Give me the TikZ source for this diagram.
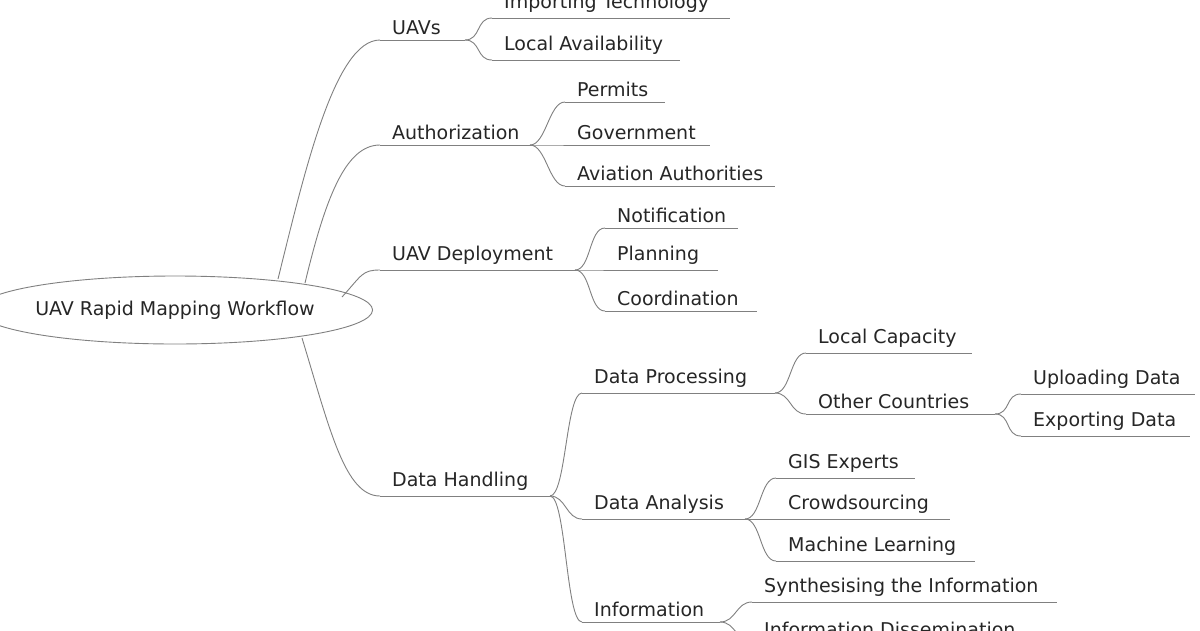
\documentclass[tikz,border=0pt]{standalone}
\usepackage{fontspec}
\setmainfont{DejaVu Sans}
\usetikzlibrary{calc,shapes.geometric}
\newcommand\mmitem[5]{%
  \coordinate (#1-s) at (#2,#4);
  \coordinate (#1-e) at (#3,#4);
  \draw[ul] (#1-s) -- (#1-e);
  \node[lbl] (#1) at ($(#1-s)+(12,-5)$) {#5};}
\newcommand\mmlink[2]{%
  \draw[conn] (#1-e) .. controls ($(#1-e)+(16,0)$) and ($(#2-s)+(-16,0)$) .. (#2-s);}
\begin{document}
\begin{tikzpicture}[x=1pt,y=-1pt,
  ul/.style={draw=black!50,line width=0.9pt},
  conn/.style={draw=black!50,line width=0.9pt},
  lbl/.style={anchor=south west,inner sep=0pt,font=\fontsize{19}{20}\selectfont,text=black!85}]
\useasboundingbox[fill=white] (0,0) rectangle (1200,630);
\node[ellipse,draw=black!50,line width=0.9pt,minimum width=340,minimum height=68,inner sep=0pt,
  font=\fontsize{19}{20}\selectfont,text=black!85] (root) at (175,310) {UAV Rapid Mapping Workflow};
\mmitem{uavs}{380}{465}{40}{UAVs}
\mmitem{imp}{492}{730}{18}{Importing Technology}
\mmitem{loc}{492}{680}{60}{Local Availability}
\mmitem{auth}{380}{530}{145}{Authorization}
\mmitem{perm}{565}{665}{102}{Permits}
\mmitem{gov}{565}{710}{145}{Government}
\mmitem{avi}{565}{775}{186}{Aviation Authorities}
\mmitem{dep}{380}{575}{270}{UAV Deployment}
\mmitem{noti}{605}{738}{228}{Notification}
\mmitem{plan}{605}{718}{270}{Planning}
\mmitem{coor}{605}{757}{311}{Coordination}
\mmitem{dh}{380}{550}{496}{Data Handling}
\mmitem{dp}{582}{775}{393}{Data Processing}
\mmitem{lcap}{806}{972}{353}{Local Capacity}
\mmitem{oc}{806}{995}{414}{Other Countries}
\mmitem{up}{1021}{1195}{394}{Uploading Data}
\mmitem{ex}{1021}{1190}{436}{Exporting Data}
\mmitem{da}{582}{745}{519}{Data Analysis}
\mmitem{gis}{776}{915}{478}{GIS Experts}
\mmitem{crowd}{776}{950}{519}{Crowdsourcing}
\mmitem{ml}{776}{975}{561}{Machine Learning}
\mmitem{info}{582}{720}{622}{Information}
\mmitem{syn}{752}{1057}{602}{Synthesising the Information}
\mmitem{diss}{752}{1040}{642}{Information Dissemination}
\coordinate (r1) at (278,279);
\coordinate (r2) at (305,283);
\coordinate (r3) at (342,297);
\coordinate (r4) at (302,338);
\draw[conn] (r1) .. controls (305,170) and (335,40) .. (uavs-s);
\draw[conn] (r2) .. controls (325,200) and (345,145) .. (auth-s);
\draw[conn] (r3) .. controls (362,275) and (362,270) .. (dep-s);
\draw[conn] (r4) .. controls (330,430) and (345,496) .. (dh-s);
\mmlink{uavs}{imp}\mmlink{uavs}{loc}
\mmlink{auth}{perm}\mmlink{auth}{gov}\mmlink{auth}{avi}
\mmlink{dep}{noti}\mmlink{dep}{plan}\mmlink{dep}{coor}
\mmlink{dh}{dp}\mmlink{dh}{da}\mmlink{dh}{info}
\mmlink{dp}{lcap}\mmlink{dp}{oc}
\mmlink{oc}{up}\mmlink{oc}{ex}
\mmlink{da}{gis}\mmlink{da}{crowd}\mmlink{da}{ml}
\mmlink{info}{syn}\mmlink{info}{diss}
\end{tikzpicture}
\end{document}
